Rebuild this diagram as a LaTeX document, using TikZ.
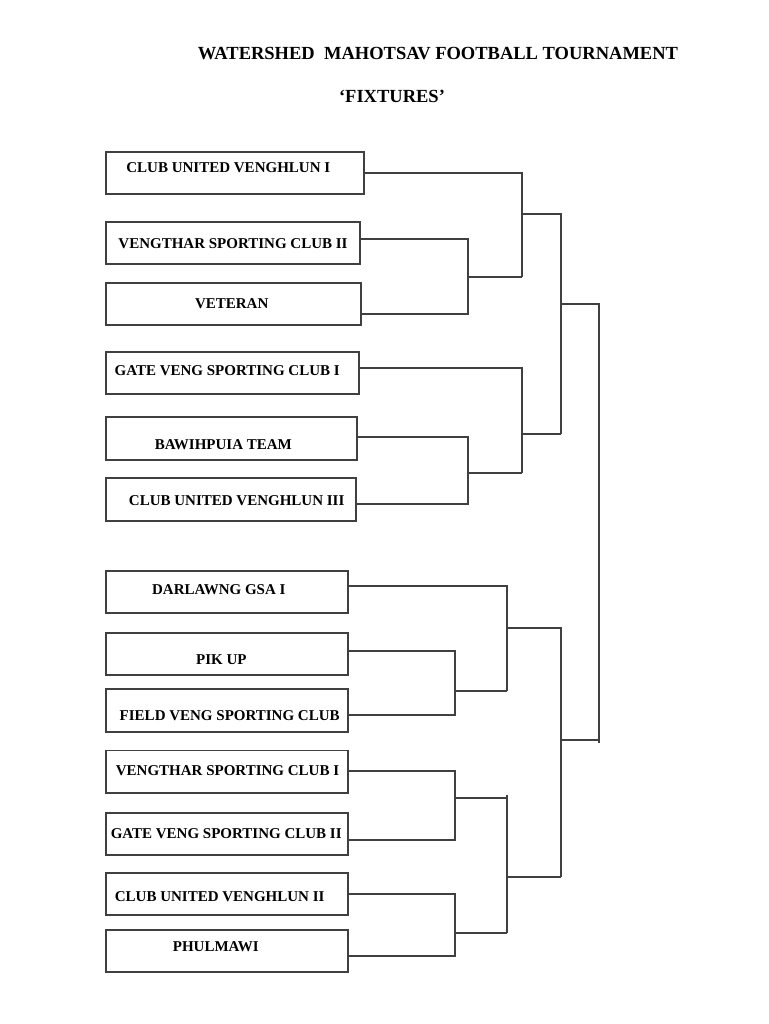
\documentclass[tikz,border=0pt]{standalone}
\usepackage{fontspec}
\setmainfont{Liberation Serif}
\begin{document}
\begin{tikzpicture}[x=1pt,y=-1pt,
  team/.style={draw=black!75, line width=1.9pt, anchor=north west, inner sep=0pt},
  lbl/.style={inner sep=0pt, font=\fontsize{15}{16}\selectfont\bfseries},
  ttl/.style={inner sep=0pt, font=\fontsize{18.5}{20}\selectfont\bfseries},
  conn/.style={draw=black!75, line width=1.9pt}]
\useasboundingbox (0,0) rectangle (768,1024);
\fill[white] (0,0) rectangle (768,1024);

\node[ttl] (title) at (438,53.3) {WATERSHED\ \ MAHOTSAV FOOTBALL TOURNAMENT};
\node[ttl] (fix) at (392,96.7) {‘FIXTURES’};

% boxes
\node[team, minimum width=258.6, minimum height=42.3] (b1) at (104.7,151) {};
\node[team, minimum width=254.6, minimum height=42] (b2) at (104.7,220.7) {};
\node[team, minimum width=255.3, minimum height=42] (b3) at (104.7,282.3) {};
\node[team, minimum width=253, minimum height=42] (b4) at (104.7,350.7) {};
\node[team, minimum width=251, minimum height=42.4] (b5) at (104.7,416.3) {};
\node[team, minimum width=250.3, minimum height=43] (b6) at (104.7,477.3) {};
\node[team, minimum width=242.6, minimum height=42.3] (b7) at (104.7,569.7) {};
\node[team, minimum width=242.6, minimum height=42.3] (b8) at (104.7,632) {};
\node[team, minimum width=242.6, minimum height=42.7] (b9) at (104.7,688.3) {};
\node[team, minimum width=242.6, minimum height=42.8] (b10) at (104.7,749.5) {};
\node[team, minimum width=242.6, minimum height=42.3] (b11) at (104.7,812) {};
\node[team, minimum width=242.6, minimum height=42] (b12) at (104.7,872.3) {};
\node[team, minimum width=242.6, minimum height=42.3] (b13) at (104.7,929) {};

% labels
\node[lbl] (t1) at (228.3,168) {CLUB UNITED VENGHLUN I};
\node[lbl] (t2) at (233,243.3) {VENGTHAR SPORTING CLUB II};
\node[lbl] (t3) at (231.7,303.8) {VETERAN};
\node[lbl] (t4) at (227.2,370.3) {GATE VENG SPORTING CLUB I};
\node[lbl] (t5) at (223.3,444.5) {BAWIHPUIA TEAM};
\node[lbl] (t6) at (236.7,500.5) {CLUB UNITED VENGHLUN III};
\node[lbl] (t7) at (218.8,589.7) {DARLAWNG GSA I};
\node[lbl] (t8) at (221.3,659.2) {PIK UP};
\node[lbl] (t9) at (229.7,715.2) {FIELD VENG SPORTING CLUB};
\node[lbl] (t10) at (227.5,770.8) {VENGTHAR SPORTING CLUB I};
\node[lbl] (t11) at (226.2,833.8) {GATE VENG SPORTING CLUB II};
\node[lbl] (t12) at (219.7,896.5) {CLUB UNITED VENGHLUN II};
\node[lbl] (t13) at (215.8,947) {PHULMAWI};

% junction coordinates
\coordinate (jA) at (468.3,277.3);
\coordinate (jB) at (522.3,214);
\coordinate (jC) at (467.7,473);
\coordinate (jD) at (522.3,433.7);
\coordinate (jE) at (560.7,303.7);
\coordinate (jF) at (455,691);
\coordinate (jG) at (507.3,627.7);
\coordinate (jH) at (455,797.7);
\coordinate (jI) at (455,933.3);
\coordinate (jJ) at (507.3,877.3);
\coordinate (jK) at (560.7,740);
\coordinate (fin) at (598.7,742.7);

% top half
\draw[conn] ([yshift=0.5]b1.east) -| (jA -| jB);
\draw[conn] ([yshift=4]b2.east) -| (jA) |- ([yshift=-9.4]b3.east);
\draw[conn] (jA) -- (jA -| jB);
\draw[conn] (jB) -| (jD -| jE);
\draw[conn] ([yshift=4.4]b4.east) -| (jC -| jD);
\draw[conn] ([yshift=1.8]b5.east) -| (jC) |- ([yshift=-4.2]b6.east);
\draw[conn] (jC) -- (jC -| jD);
\draw[conn] (jD) -- (jD -| jE);
\draw[conn] (jE) -| (fin);

% bottom half
\draw[conn] ([yshift=5.8]b7.east) -| (jF -| jG);
\draw[conn] ([yshift=3.2]b8.east) -| (jF) |- ([yshift=-4.6]b9.east);
\draw[conn] (jF) -- (jF -| jG);
\draw[conn] (jG) -| (jJ -| jK);
\draw[conn] ([yshift=0.9]b10.east) -| (jH) |- ([yshift=-5.8]b11.east);
\draw[conn] (jH) -- (jH -| jG);
\draw[conn] ([yshift=3]jH -| jG) -- (jI -| jG);
\draw[conn] ([yshift=0.6]b12.east) -| (jI) |- ([yshift=-4.8]b13.east);
\draw[conn] (jI) -- (jI -| jG);
\draw[conn] (jJ) -- (jJ -| jK);
\draw[conn] (jK) -- (jK -| fin);
\end{tikzpicture}
\end{document}
